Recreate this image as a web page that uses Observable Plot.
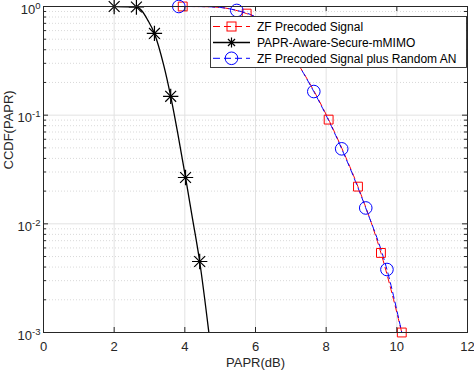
<!DOCTYPE html>
<html><head><meta charset="utf-8">
<script src="https://cdn.jsdelivr.net/npm/d3@7"></script>
<script src="https://cdn.jsdelivr.net/npm/@observablehq/plot@0.6"></script>
<style>
body{margin:0;background:#fff}
svg{display:block;font-family:"Liberation Sans",Arial,Helvetica,sans-serif}
</style>
</head><body><div id="chart"></div>
<script>
// ---- data ----
const xTicks = [0, 2, 4, 6, 8, 10, 12];
const yTicks = [1e-3, 1e-2, 1e-1, 1];
const yExponents = ["-3", "-2", "-1", "0"];
const xLabel = "PAPR(dB)";
const yLabel = "CCDF(PAPR)";
const seriesNames = ["ZF Precoded Signal", "PAPR-Aware-Secure-mMIMO", "ZF Precoded Signal plus Random AN"];

// ZF precoded signal (red dashed, squares)
const zfLine = [[3.94,1.0],[4.5,0.997],[5.0,0.98],[5.75,0.86],[6.0,0.8],[6.5,0.58],[7.0,0.37],[7.48,0.21],[8.07,0.091],[8.5,0.045],[8.9,0.022],[9.55,0.0054],[10.14,0.001]];
const zfMarkers = [[3.94,1.0],[5.75,0.86],[8.07,0.091],[8.9,0.022],[9.55,0.0054],[10.14,0.001]];
// PAPR-aware secure mMIMO (black solid, stars)
const paprLine = [[2.0,1.0],[2.63,0.99],[2.8,0.9],[2.95,0.75],[3.14,0.565],[3.4,0.29],[3.6,0.149],[3.8,0.068],[4.02,0.0267],[4.2,0.012],[4.42,0.0045],[4.68,0.001]];
const paprMarkers = [[2.0,1.0],[2.63,0.99],[3.14,0.565],[3.6,0.149],[4.02,0.0267],[4.42,0.0045]];
// ZF precoded + random AN (blue dashed, circles)
const anLine = [[3.83,1.0],[4.5,0.997],[5.0,0.98],[5.47,0.92],[6.0,0.8],[6.5,0.58],[7.0,0.37],[7.65,0.165],[8.44,0.049],[9.12,0.014],[9.72,0.0038],[10.14,0.001]];
const anMarkers = [[3.83,1.0],[5.47,0.92],[7.65,0.165],[8.44,0.049],[9.12,0.014],[9.72,0.0038]];

// minor log ticks
const yMinor = [];
for (const d of [1e-3, 1e-2, 1e-1]) for (let k = 2; k <= 9; k++) yMinor.push(d * k);

const W = 474, H = 370, mL = 43, mR = 7, mT = 6, mB = 38;
const pw = W - mL - mR, ph = H - mT - mB;
const axisCol = "#262626";
const toObj = a => a.map(([x, y]) => ({x, y}));

const plot = Plot.plot({
  width: W, height: H,
  marginLeft: mL, marginRight: mR, marginTop: mT, marginBottom: mB,
  style: {fontSize: "13px", color: axisCol, background: "white"},
  x: {domain: [0, 12]},
  y: {type: "log", domain: [1e-3, 1]},
  marks: [
    Plot.ruleY(yMinor, {stroke: "#cfcfcf", strokeDasharray: "1,2", strokeWidth: 0.8}),
    Plot.ruleY(yTicks, {stroke: "#e2e2e2"}),
    Plot.ruleX(xTicks, {stroke: "#e2e2e2"}),
    Plot.axisX(xTicks, {tickSize: 0, tickPadding: 9, label: null, fontSize: 13}),
    Plot.axisY(yTicks, {tickSize: 0, tickPadding: 3, label: null, fontSize: 13, dy: 3,
      tickFormat: (d) => "10^" + yExponents[yTicks.indexOf(d)]}),
    Plot.text([xLabel], {frameAnchor: "bottom", lineAnchor: "middle", dy: 30, text: d => d, fontSize: 13, fill: axisCol}),
    Plot.text([yLabel], {frameAnchor: "left", lineAnchor: "middle", dx: -35, rotate: -90, text: d => d, fontSize: 13, fill: axisCol}),
    Plot.line(toObj(zfLine), {x: "x", y: "y", stroke: "#ff0000", strokeDasharray: "6,4", strokeWidth: 1, curve: "monotone-x", clip: true}),
    Plot.line(toObj(paprLine), {x: "x", y: "y", stroke: "#000", strokeWidth: 1.3, curve: "monotone-x", clip: true}),
    Plot.line(toObj(anLine), {x: "x", y: "y", stroke: "#0000ff", strokeDasharray: "6,4", strokeWidth: 1, curve: "monotone-x", clip: true}),
    Plot.dot(toObj(zfMarkers), {x: "x", y: "y", symbol: "square", r: 5, stroke: "#ff0000", fill: "none", strokeWidth: 1}),
    Plot.dot(toObj(paprMarkers), {x: "x", y: "y", symbol: "plus", r: 5, stroke: "#000", strokeWidth: 1.2}),
    Plot.dot(toObj(paprMarkers), {x: "x", y: "y", symbol: "times", r: 5, stroke: "#000", strokeWidth: 1.2}),
    Plot.dot(toObj(anMarkers), {x: "x", y: "y", symbol: "circle", r: 6.3, stroke: "#0000ff", fill: "none", strokeWidth: 1}),
    // inward ticks
    Plot.ruleX(xTicks, {insetTop: ph - 5, stroke: axisCol}),
    Plot.ruleX(xTicks, {insetBottom: ph - 5, stroke: axisCol}),
    Plot.ruleY(yTicks, {insetRight: pw - 5, stroke: axisCol}),
    Plot.ruleY(yTicks, {insetLeft: pw - 5, stroke: axisCol}),
    Plot.ruleY(yMinor, {insetRight: pw - 3, stroke: axisCol}),
    Plot.ruleY(yMinor, {insetLeft: pw - 3, stroke: axisCol}),
    Plot.frame({stroke: axisCol, strokeWidth: 1})
  ]
});

document.getElementById("chart").appendChild(plot);

// superscript exponents on y tick labels
d3.select(plot).selectAll('[aria-label="y-axis tick label"] text').each(function () {
  const t = this.textContent;
  const m = t.split("^");
  if (m.length === 2) {
    const sel = d3.select(this);
    sel.text(m[0]);
    sel.append("tspan").attr("dy", "-5").attr("font-size", "9.5").text(m[1]);
  }
});

// legend (MATLAB style, inside the axes, top right)
const svg = d3.select(plot);
const lg = svg.append("g").attr("font-size", 12).attr("fill", "#000").attr("text-anchor", "start");
const lx = 210.5, ly = 16.5, lw = 256, lh = 51;
lg.append("rect").attr("x", lx).attr("y", ly).attr("width", lw).attr("height", lh)
  .attr("fill", "white").attr("stroke", axisCol).attr("stroke-width", 0.9);
const rows = [26.5, 42.5, 58.3];
const styles = [
  {stroke: "#ff0000", dash: "6,4", marker: "square"},
  {stroke: "#000", dash: null, marker: "star"},
  {stroke: "#0000ff", dash: "6,4", marker: "circle"}
];
seriesNames.forEach((name, i) => {
  const y = rows[i], s = styles[i];
  const ln = lg.append("line").attr("x1", 213).attr("x2", 250).attr("y1", y).attr("y2", y)
    .attr("stroke", s.stroke).attr("stroke-width", i === 1 ? 1.3 : 1);
  if (s.dash) ln.attr("stroke-dasharray", "7,4");
  const cx = 231.5;
  if (s.marker === "square") {
    lg.append("rect").attr("x", cx - 4.5).attr("y", y - 4.5).attr("width", 9).attr("height", 9)
      .attr("fill", "none").attr("stroke", s.stroke);
  } else if (s.marker === "circle") {
    lg.append("circle").attr("cx", cx).attr("cy", y).attr("r", 6.3).attr("fill", "none").attr("stroke", s.stroke);
  } else {
    const r = 5, q = r * 0.707;
    lg.append("path").attr("d", `M${cx - r},${y}H${cx + r}M${cx},${y - r}V${y + r}M${cx - q},${y - q}L${cx + q},${y + q}M${cx - q},${y + q}L${cx + q},${y - q}`)
      .attr("stroke", "#000").attr("stroke-width", 1.2);
  }
  lg.append("text").attr("x", 257).attr("y", y).attr("dy", "0.35em").attr("text-anchor", "start").text(name);
});
</script>
</body></html>
